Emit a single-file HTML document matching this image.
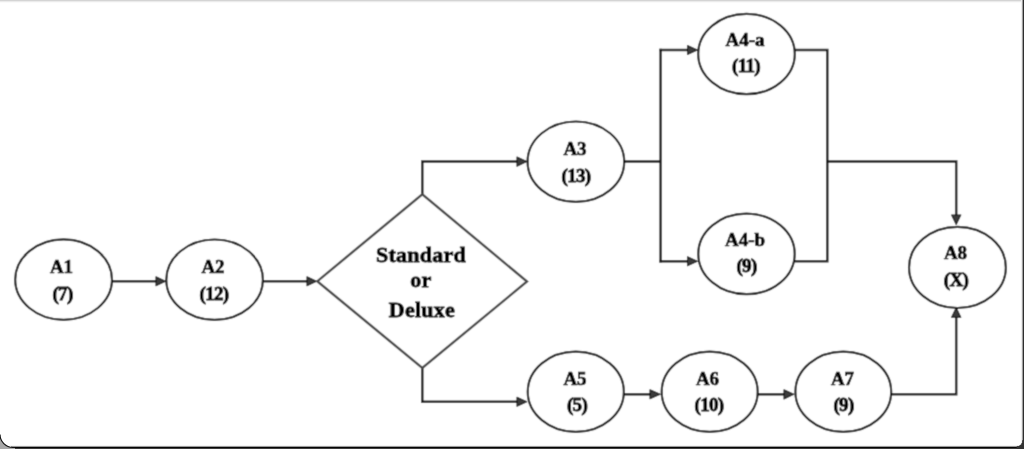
<!DOCTYPE html>
<html><head><meta charset="utf-8">
<style>
html,body{margin:0;padding:0;width:1024px;height:449px;overflow:hidden;background:#fff;}
svg{position:absolute;left:0;top:0;}
text{font-family:"Liberation Serif",serif;font-weight:bold;fill:#000;stroke:#000;stroke-width:0.7px;}
.n{letter-spacing:-0.7px;stroke-width:0.9px;}
.d text{stroke-width:0.85px;letter-spacing:0.25px;}
</style></head><body>
<svg width="1024" height="449" viewBox="0 0 1024 449">
<defs>
<linearGradient id="tg" x1="0" y1="0" x2="0" y2="1">
<stop offset="0" stop-color="#d3d3d3"/><stop offset="1" stop-color="#fbfbfb"/>
</linearGradient>
<filter id="bl" x="0" y="0" width="1024" height="449" filterUnits="userSpaceOnUse"><feConvolveMatrix order="3" kernelMatrix="1 4 1 4 16 4 1 4 1" divisor="36" edgeMode="duplicate"/></filter>
</defs>
<rect x="0" y="0" width="1024" height="449" fill="#fff"/>

<g id="dg" filter="url(#bl)">
<rect x="0" y="0" width="1024" height="449" fill="#fff"/>
<!-- connectors -->
<g stroke="#1a1a1a" stroke-width="2.5" fill="none">
<line x1="112" y1="281.2" x2="157" y2="281.2"/>
<line x1="263" y1="281.2" x2="308" y2="281.2"/>
<polyline points="422.3,194.5 422.3,161.6 518,161.6"/>
<polyline points="422.3,368 422.3,401.8 518,401.8"/>
<line x1="624.7" y1="161.6" x2="660.6" y2="161.6"/>
<line x1="660.6" y1="48.8" x2="660.6" y2="262.5"/>
<line x1="659.4" y1="50" x2="689" y2="50"/>
<line x1="659.4" y1="261.3" x2="689" y2="261.3"/>
<polyline points="795,50 827.3,50 827.3,261.3 795,261.3"/>
<polyline points="827.3,161.6 956.2,161.6 956.2,216"/>
<line x1="623.8" y1="394.3" x2="651" y2="394.3"/>
<line x1="757.7" y1="394.3" x2="785" y2="394.3"/>
<polyline points="891.5,394.3 956.2,394.3 956.2,316"/>
</g>
<!-- arrowheads -->
<g fill="#3a3a3a" stroke="#111" stroke-width="1.1" stroke-linejoin="round">
<polygon points="156,276.7 165.5,281.2 156,285.7"/>
<polygon points="307,276.7 316.5,281.2 307,285.7"/>
<polygon points="517,157 526.8,161.6 517,166.2"/>
<polygon points="517,397.3 526.8,401.8 517,406.3"/>
<polygon points="687.5,45.5 697.4,50 687.5,54.5"/>
<polygon points="687.5,256.8 697.4,261.3 687.5,265.8"/>
<polygon points="951.6,215 956.2,224.5 960.8,215"/>
<polygon points="951.6,317.3 956.2,307.8 960.8,317.3"/>
<polygon points="650,389.8 660.2,394.3 650,398.8"/>
<polygon points="784,389.7 793.8,394.3 784,398.9"/>
</g>
<!-- diamond -->
<polygon points="317.2,281.3 422.3,194.4 527,281.5 422.3,368" fill="none" stroke="#444" stroke-width="2.4"/>
<!-- ellipses -->
<g fill="none" stroke="#151515" stroke-width="2.2">
<ellipse cx="63.6" cy="279.6" rx="48.4" ry="40.2"/>
<ellipse cx="214.6" cy="279.7" rx="48.3" ry="40.2"/>
<ellipse cx="575.9" cy="161.7" rx="48.3" ry="40.2"/>
<ellipse cx="746.5" cy="54" rx="48.3" ry="40.2"/>
<ellipse cx="746.5" cy="253.9" rx="48.2" ry="40.3"/>
<ellipse cx="575.8" cy="391.8" rx="48.05" ry="40.1"/>
<ellipse cx="709.7" cy="391.8" rx="48" ry="40.1"/>
<ellipse cx="843.3" cy="391.8" rx="47.9" ry="40.1"/>
<ellipse cx="957.45" cy="267.4" rx="48.4" ry="40.6"/>
</g>
<!-- text -->
<g font-size="19" text-anchor="middle">
<text x="61.5" y="272.5">A1</text><text class="n" x="62.5" y="299.5">(7)</text>
<text x="213" y="272.5">A2</text><text class="n" x="214" y="299.5">(12)</text>
<text x="575" y="155">A3</text><text class="n" x="576" y="181.5">(13)</text>
<text x="745" y="46.3">A4-a</text><text class="n" x="746" y="72.2">(11)</text>
<text x="745" y="246">A4-b</text><text class="n" x="746.5" y="272.2">(9)</text>
<text x="575" y="384.5">A5</text><text class="n" x="577" y="411">(5)</text>
<text x="707.5" y="384.7">A6</text><text class="n" x="709" y="411">(10)</text>
<text x="842.5" y="384.7">A7</text><text class="n" x="843.5" y="411">(9)</text>
<text x="955.5" y="259">A8</text><text class="n" x="956" y="285.8">(X)</text>
</g>
<g class="d" font-size="22" text-anchor="middle">
<text x="421" y="262">Standard</text>
<text x="421" y="286.5">or</text>
<text x="422" y="317">Deluxe</text>
</g>

</g>
<!-- window frame -->
<rect x="0" y="0" width="1024" height="1" fill="#d4d4d4"/>
<rect x="0" y="1" width="1024" height="1" fill="#ebebeb"/>
<rect x="0" y="2" width="1024" height="1" fill="#fafafa"/>
<rect x="1021" y="0" width="1" height="449" fill="#eeeeee"/>
<rect x="1022" y="0" width="1" height="449" fill="#a0a0a0"/>
<rect x="1023" y="0" width="1" height="449" fill="#2e2e2e"/>
<rect x="10" y="445" width="1012" height="1" fill="#f5f5f5"/>
<rect x="11" y="446" width="1006" height="1" fill="#999999"/>
<rect x="12" y="447" width="1006" height="1" fill="#050505"/>
<rect x="0" y="448" width="1024" height="1" fill="#3c3c3c"/>
<path d="M0,434.5 A13,13 0 0 0 13,447.5 L15,448 L15,449 L0,449 Z" fill="#a8a8a8"/>
<path d="M0,434.5 A13,13 0 0 0 13,447.5 L15,447.5" fill="none" stroke="#111" stroke-width="1.2"/>
<path d="M1022.6,440.5 A6,6 0 0 1 1016.6,446.5 L1016.6,449 L1024,449 L1024,440.5 Z" fill="#333"/>
<path d="M1022.6,440.5 A6,6 0 0 1 1016.6,446.5" fill="none" stroke="#111" stroke-width="0.8" stroke-dasharray="1 1.5"/>
</svg>
</body></html>
